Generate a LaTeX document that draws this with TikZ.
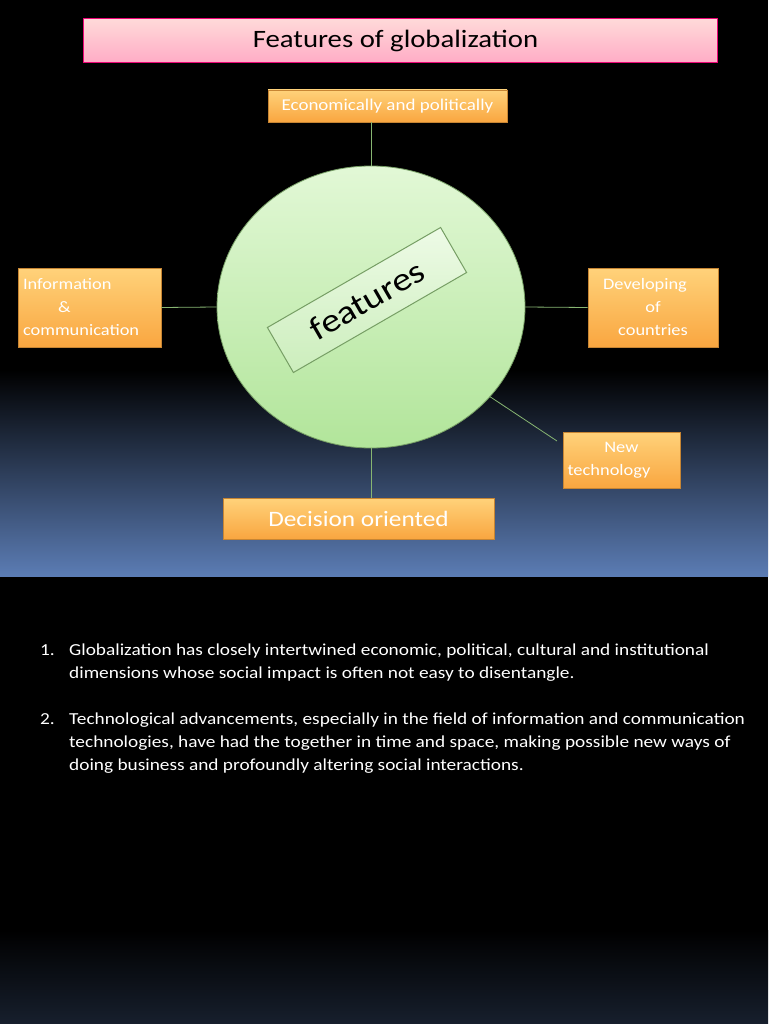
\documentclass[tikz,border=0pt]{standalone}
\usepackage{fontspec}
\setmainfont{Carlito}[FakeStretch=1.15]
\usetikzlibrary{shapes.geometric}
\definecolor{bgblue}{HTML}{5B7CB4}
\definecolor{obox}{HTML}{F9A640}
\definecolor{oboxl}{HTML}{FFD27A}
\definecolor{grn}{HTML}{A9E28F}
\definecolor{grnl}{HTML}{E2F8D6}
\tikzset{
 obox/.style={draw=obox!80!black,line width=0.6pt,top color=oboxl,bottom color=obox,text=white,align=center,inner sep=0pt},
 link/.style={draw=grn!80!black,line width=0.8pt}
}
\begin{document}
\begin{tikzpicture}[x=1pt,y=-1pt]
\useasboundingbox (0,0) rectangle (768,1024);
\fill[black] (0,0) rectangle (768,1024);
\shade[top color=black,bottom color=bgblue] (0,370) rectangle (768,576);
\shade[top color=black,bottom color=black!75!bgblue] (0,930) rectangle (768,1024);
\node[draw=magenta!80!red,line width=1pt,top color=pink!60,bottom color=pink!90!magenta,minimum width=634pt,minimum height=44pt] (title) at (400,41) {\fontsize{25}{28}\selectfont\hspace{-9pt}Features of globalization};
\node[ellipse,draw=grn!70!black,line width=0.8pt,top color=grnl,bottom color=grn!90,minimum width=308pt,minimum height=282pt,inner sep=0pt] (c) at (371,307) {};
\node[draw=grn!70!black,line width=1pt,top color=grnl!60,bottom color=grn!60,rotate=30,minimum width=200pt,minimum height=52pt,font=\fontsize{33}{36}\selectfont] (f) at (367,300) {features};
\node[obox,minimum width=239pt,minimum height=32pt,font=\fontsize{16.5}{18}\selectfont] (e) at (387.5,106) {Economically and politically};
\node[obox,minimum width=143pt,minimum height=79pt,font=\fontsize{16}{23}\selectfont,text width=133pt,align=left] (i) at (89.5,307.5) {Information\\\hspace{2.2em}\&\\communication};
\node[obox,minimum width=130pt,minimum height=79pt,font=\fontsize{16}{23}\selectfont,text width=120pt] (d) at (653,307.5) {\hspace{-1em}Developing\\of\\countries};
\node[obox,minimum width=117pt,minimum height=56pt,font=\fontsize{16}{23}\selectfont,text width=108pt,align=left] (n) at (621.5,460) {\hspace{2.3em}New\\technology};
\node[obox,minimum width=271pt,minimum height=41pt,font=\fontsize{22}{25}\selectfont] (o) at (358.5,518.5) {Decision oriented};
\coordinate (nt) at (557,441);
\path[link] (c.north|-e.south) -- (c.north);
\path[link] (i.east) -- (c.west);
\path[link] (c.east) -- (d.west);
\path[link] (c.south) -- (c.south|-o.north);
\path[link] (c.-37) -- (nt);
\begin{scope}[font=\fontsize{16.8}{23}\selectfont,text=white]
\node[anchor=base west,inner sep=0pt] (n1) at (40,655) {1.};
\node[anchor=base west,inner sep=0pt] (t1a) at (69,655) {Globalization has closely intertwined economic, political, cultural and institutional};
\node[anchor=base west,inner sep=0pt] (t1b) at (69,678) {dimensions whose social impact is often not easy to disentangle.};
\node[anchor=base west,inner sep=0pt] (n2) at (40,724) {2.};
\node[anchor=base west,inner sep=0pt] (t2a) at (69,724) {Technological advancements, especially in the field of information and communication};
\node[anchor=base west,inner sep=0pt] (t2b) at (69,747) {technologies, have had the together in time and space, making possible new ways of};
\node[anchor=base west,inner sep=0pt] (t2c) at (69,770) {doing business and profoundly altering social interactions.};
\end{scope}
\end{tikzpicture}
\end{document}
